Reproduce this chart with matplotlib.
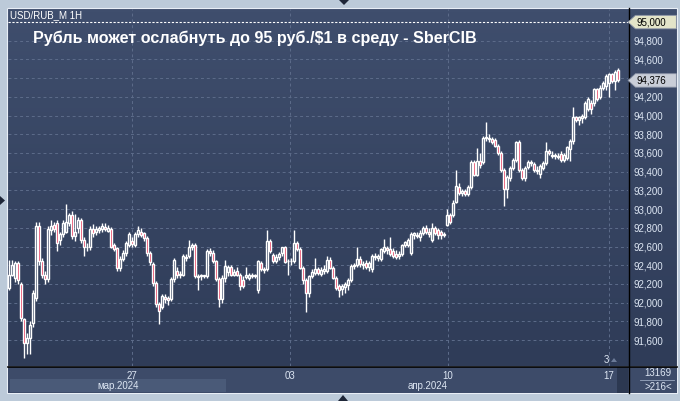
import numpy as np
import matplotlib
matplotlib.use("Agg")
import matplotlib.pyplot as plt
from matplotlib.patches import Rectangle, Polygon
from matplotlib.colors import LinearSegmentedColormap
from matplotlib.transforms import blended_transform_factory

plt.rcParams['font.family'] = ['Liberation Sans', 'DejaVu Sans']

# ── Data: USD/RUB_M, 1H candles (rub) ─────────────────────────────────────────
opens = [
    92.16, 92.30, 92.26, 92.42, 92.20, 91.82, 91.57, 91.62, 91.78, 92.05,
    92.82, 92.44, 92.30, 92.25, 92.78, 92.83, 92.85, 92.67, 92.73, 92.76,
    92.85, 92.94, 92.71, 92.80, 92.88, 92.67, 92.60, 92.59, 92.79, 92.75,
    92.78, 92.79, 92.81, 92.77, 92.79, 92.62, 92.58, 92.37, 92.47, 92.53,
    92.62, 92.66, 92.62, 92.73, 92.76, 92.74, 92.69, 92.53, 92.41, 92.21,
    91.99, 91.95, 92.06, 92.05, 92.04, 92.25, 92.34, 92.31, 92.30, 92.49,
    92.50, 92.60, 92.62, 92.28, 92.28, 92.28, 92.28, 92.55, 92.53, 92.44,
    92.25, 92.04, 92.26, 92.33, 92.38, 92.30, 92.34, 92.30, 92.24, 92.27,
    92.26, 92.29, 92.29, 92.13, 92.42, 92.36, 92.36, 92.66, 92.51, 92.44,
    92.49, 92.53, 92.59, 92.44, 92.45, 92.44, 92.64, 92.57, 92.37, 92.24,
    92.10, 92.28, 92.32, 92.36, 92.31, 92.34, 92.34, 92.46, 92.37, 92.26,
    92.18, 92.15, 92.17, 92.19, 92.24, 92.39, 92.40, 92.47, 92.41, 92.42,
    92.38, 92.36, 92.49, 92.48, 92.47, 92.55, 92.58, 92.57, 92.55, 92.52,
    92.50, 92.52, 92.62, 92.62, 92.53, 92.72, 92.72, 92.70, 92.74, 92.80,
    92.76, 92.67, 92.80, 92.78, 92.76, 92.72, 92.83, 92.94, 92.94, 93.08,
    93.24, 93.17, 93.19, 93.16, 93.24, 93.50, 93.37, 93.51, 93.50, 93.76,
    93.76, 93.75, 93.74, 93.68, 93.60, 93.42, 93.22, 93.33, 93.44, 93.53,
    93.72, 93.42, 93.33, 93.45, 93.50, 93.48, 93.42, 93.38, 93.44, 93.49,
    93.62, 93.58, 93.57, 93.56, 93.59, 93.53, 93.55, 93.64, 93.73, 93.98,
    93.95, 93.97, 93.98, 94.07, 94.14, 94.14, 94.28, 94.20, 94.30, 94.32,
    94.35, 94.44, 94.37, 94.49,
]
highs = [
    92.46, 92.46, 92.45, 92.44, 92.22, 91.84, 91.68, 91.80, 92.14, 92.86,
    92.86, 92.48, 92.34, 92.82, 92.88, 92.86, 92.88, 92.76, 92.88, 93.05,
    92.96, 92.98, 92.95, 92.92, 92.90, 92.70, 92.64, 92.82, 92.84, 92.82,
    92.82, 92.85, 92.85, 92.83, 92.81, 92.64, 92.60, 92.50, 92.56, 92.66,
    92.76, 92.70, 92.76, 92.82, 92.80, 92.76, 92.71, 92.55, 92.43, 92.23,
    92.01, 92.09, 92.09, 92.07, 92.27, 92.48, 92.38, 92.34, 92.52, 92.52,
    92.67, 92.64, 92.64, 92.31, 92.31, 92.30, 92.57, 92.58, 92.56, 92.46,
    92.27, 92.30, 92.46, 92.40, 92.40, 92.36, 92.38, 92.32, 92.28, 92.38,
    92.32, 92.32, 92.31, 92.46, 92.45, 92.38, 92.78, 92.68, 92.53, 92.52,
    92.54, 92.60, 92.61, 92.47, 92.48, 92.78, 92.66, 92.59, 92.39, 92.26,
    92.30, 92.36, 92.48, 92.38, 92.38, 92.40, 92.50, 92.49, 92.39, 92.28,
    92.20, 92.20, 92.22, 92.26, 92.41, 92.42, 92.59, 92.50, 92.44, 92.46,
    92.44, 92.52, 92.53, 92.52, 92.58, 92.68, 92.61, 92.70, 92.58, 92.56,
    92.55, 92.63, 92.66, 92.69, 92.75, 92.76, 92.76, 92.78, 92.82, 92.83,
    92.80, 92.85, 92.82, 92.80, 92.78, 92.75, 93.00, 92.96, 93.10, 93.42,
    93.28, 93.22, 93.22, 93.26, 93.52, 93.52, 93.65, 93.60, 93.78, 93.93,
    93.80, 93.77, 93.76, 93.70, 93.62, 93.44, 93.36, 93.46, 93.55, 93.73,
    93.74, 93.44, 93.46, 93.52, 93.53, 93.50, 93.46, 93.48, 93.51, 93.72,
    93.64, 93.62, 93.60, 93.60, 93.62, 93.60, 93.67, 93.75, 94.09, 94.00,
    94.00, 94.02, 94.16, 94.20, 94.17, 94.30, 94.30, 94.33, 94.37, 94.44,
    94.46, 94.46, 94.49, 94.51,
]
lows = [
    92.14, 92.28, 92.22, 92.20, 91.80, 91.41, 91.45, 91.45, 91.74, 92.02,
    92.40, 92.26, 92.20, 92.22, 92.72, 92.76, 92.55, 92.62, 92.70, 92.74,
    92.82, 92.68, 92.66, 92.74, 92.64, 92.50, 92.55, 92.56, 92.70, 92.72,
    92.74, 92.76, 92.77, 92.75, 92.58, 92.55, 92.34, 92.34, 92.44, 92.50,
    92.60, 92.60, 92.60, 92.70, 92.70, 92.66, 92.50, 92.40, 92.18, 91.95,
    91.77, 91.93, 92.00, 91.97, 92.02, 92.22, 92.26, 92.26, 92.28, 92.44,
    92.48, 92.56, 92.26, 92.14, 92.24, 92.26, 92.26, 92.50, 92.42, 92.23,
    91.95, 92.00, 92.22, 92.28, 92.28, 92.28, 92.28, 92.14, 92.16, 92.25,
    92.24, 92.26, 92.26, 92.10, 92.34, 92.32, 92.34, 92.53, 92.42, 92.42,
    92.46, 92.50, 92.42, 92.30, 92.40, 92.42, 92.55, 92.36, 92.20, 91.90,
    92.06, 92.26, 92.29, 92.30, 92.28, 92.31, 92.32, 92.36, 92.25, 92.14,
    92.06, 92.08, 92.10, 92.14, 92.22, 92.36, 92.38, 92.38, 92.36, 92.36,
    92.34, 92.33, 92.46, 92.45, 92.45, 92.53, 92.52, 92.50, 92.48, 92.47,
    92.47, 92.50, 92.59, 92.60, 92.51, 92.68, 92.69, 92.66, 92.72, 92.73,
    92.70, 92.65, 92.72, 92.68, 92.68, 92.70, 92.82, 92.84, 92.92, 93.06,
    93.15, 93.14, 93.14, 93.14, 93.22, 93.35, 93.35, 93.44, 93.48, 93.73,
    93.72, 93.70, 93.66, 93.58, 93.40, 93.03, 93.12, 93.30, 93.42, 93.50,
    93.40, 93.31, 93.30, 93.43, 93.46, 93.40, 93.38, 93.33, 93.42, 93.47,
    93.58, 93.55, 93.54, 93.54, 93.50, 93.50, 93.53, 93.51, 93.70, 93.93,
    93.90, 93.92, 93.96, 94.05, 94.02, 94.10, 94.16, 94.18, 94.27, 94.27,
    94.20, 94.35, 94.27, 94.36,
]
closes = [
    92.30, 92.40, 92.42, 92.24, 91.84, 91.57, 91.62, 91.76, 92.10, 92.82,
    92.44, 92.30, 92.25, 92.79, 92.82, 92.79, 92.64, 92.73, 92.85, 92.86,
    92.94, 92.71, 92.76, 92.88, 92.67, 92.60, 92.59, 92.79, 92.74, 92.79,
    92.80, 92.82, 92.79, 92.80, 92.60, 92.57, 92.37, 92.47, 92.53, 92.64,
    92.73, 92.63, 92.73, 92.78, 92.72, 92.69, 92.53, 92.43, 92.21, 91.98,
    91.91, 92.07, 92.04, 92.03, 92.25, 92.46, 92.30, 92.29, 92.50, 92.48,
    92.60, 92.62, 92.28, 92.27, 92.29, 92.29, 92.55, 92.53, 92.44, 92.25,
    92.04, 92.26, 92.39, 92.38, 92.30, 92.33, 92.30, 92.18, 92.18, 92.30,
    92.30, 92.28, 92.28, 92.44, 92.36, 92.35, 92.66, 92.55, 92.44, 92.49,
    92.52, 92.59, 92.43, 92.45, 92.44, 92.64, 92.57, 92.37, 92.24, 92.10,
    92.28, 92.33, 92.36, 92.32, 92.35, 92.36, 92.46, 92.37, 92.26, 92.16,
    92.14, 92.18, 92.20, 92.24, 92.39, 92.40, 92.47, 92.41, 92.40, 92.38,
    92.42, 92.50, 92.50, 92.50, 92.57, 92.60, 92.56, 92.52, 92.50, 92.49,
    92.52, 92.62, 92.65, 92.67, 92.73, 92.74, 92.71, 92.74, 92.80, 92.76,
    92.73, 92.80, 92.74, 92.72, 92.72, 92.73, 92.94, 92.86, 93.07, 93.25,
    93.17, 93.19, 93.16, 93.24, 93.50, 93.37, 93.51, 93.47, 93.76, 93.77,
    93.75, 93.72, 93.68, 93.60, 93.42, 93.22, 93.34, 93.44, 93.53, 93.72,
    93.42, 93.33, 93.44, 93.50, 93.49, 93.42, 93.41, 93.46, 93.49, 93.62,
    93.60, 93.57, 93.58, 93.57, 93.53, 93.58, 93.66, 93.73, 93.98, 93.95,
    93.98, 94.00, 94.14, 94.18, 94.07, 94.28, 94.18, 94.30, 94.35, 94.42,
    94.44, 94.37, 94.47, 94.376,
]

price_ticks = [91.6, 91.8, 92.0, 92.2, 92.4, 92.6, 92.8, 93.0, 93.2, 93.4,
               93.6, 93.8, 94.0, 94.2, 94.4, 94.6, 94.8]
date_labels = ["27", "03", "10", "17"]
date_pos = [41, 93.7, 146.3, 200]          # candle index of each date
month_labels = ["мар.2024", "апр.2024"]
level = 95.0
last = 94.376

title = "Рубль может ослабнуть до 95 руб./$1 в среду - SberCIB"

# ── Colours ────────────────────────────────────────────────────────────────────
FRAME = "#bccad9"
PANEL_TOP = "#3f4e6d"
PANEL_BOT = "#2f3c58"
GRID = "#5d6c8a"
RED = "#e0143c"
TXT = "#dde6f3"

W, H = 680, 401
fig = plt.figure(figsize=(W / 100, H / 100), dpi=100)
fig.patch.set_facecolor(FRAME)

# background in pixel coordinates
bg = fig.add_axes([0, 0, 1, 1])
bg.set_xlim(0, W)
bg.set_ylim(H, 0)
bg.axis("off")
cmap = LinearSegmentedColormap.from_list("panel", [PANEL_TOP, PANEL_BOT])
bg.imshow(np.linspace(0, 1, 100)[:, None], cmap=cmap, aspect="auto",
          extent=(7, 677, 366, 8), zorder=0)
bg.add_patch(Rectangle((7, 8), 670, 385, fc="none", ec="#e8eef6", lw=0.8, zorder=1))
# bottom date strip
bg.add_patch(Rectangle((8, 367), 669, 26, fc="#3d4b69", ec="none", zorder=1))
bg.add_patch(Rectangle((10, 379), 216, 13, fc="#4a5a78", ec="none", zorder=1))
bg.add_patch(Rectangle((617, 367), 11, 26, fc="#2c3851", ec="none", zorder=1))
bg.plot([8, 677], [366.5, 366.5], color="black", lw=1.2, zorder=2)
bg.plot([628.5, 628.5], [8, 393], color="black", lw=1.0, zorder=2)
bg.plot([640, 674], [380, 380], color="#9aa8c0", lw=0.6, zorder=2)

for lab, xp in zip(date_labels, [132, 290, 448, 609]):
    bg.text(xp, 376, lab, color=TXT, fontsize=7, ha="center", va="center")
bg.text(118, 386, month_labels[0], color=TXT, fontsize=7, ha="center", va="center")
bg.text(428, 386, month_labels[1], color=TXT, fontsize=7, ha="center", va="center")
bg.text(658, 373, "13169", color=TXT, fontsize=7, ha="center", va="center")
bg.text(658, 387, ">216<", color=TXT, fontsize=7, ha="center", va="center")
bg.text(606, 360, "3", color=TXT, fontsize=7, ha="center", va="center")
bg.add_patch(Polygon([[611, 362], [617, 362], [614, 358]], closed=True,
                     fc="#6c7b98", ec="none", zorder=2))
# small scroll markers on the frame
bg.add_patch(Polygon([[339, 0], [349, 0], [344, 5]], closed=True, fc="#1e2638", ec="none"))
bg.add_patch(Polygon([[338, 401], [348, 401], [343, 395]], closed=True, fc="#1e2638", ec="none"))
bg.add_patch(Polygon([[0, 196], [0, 205], [5, 200.5]], closed=True, fc="#1e2638", ec="none"))

bg.text(10, 15, "USD/RUB_M 1H", color="white", fontsize=7, ha="left", va="center")

# ── Main chart ─────────────────────────────────────────────────────────────────
ax = fig.add_axes([8 / W, 1 - 366 / H, 620 / W, 357 / H])
ax.patch.set_alpha(0)
ax.set_xlim(-1 / 3, 206.33)
ax.set_ylim(91.322, 95.14)
for s in ax.spines.values():
    s.set_visible(False)

for p in price_ticks:
    ax.axhline(p, color=GRID, lw=0.7, ls=(0, (3, 3)), zorder=1)
for xp in date_pos:
    ax.axvline(xp, color=GRID, lw=0.7, ls=(0, (3, 3)), zorder=1)
ax.axhline(level, color="white", lw=0.8, ls=(0, (2, 1.5)), zorder=2)

o = np.array(opens)
h = np.array(highs)
l = np.array(lows)
c = np.array(closes)
x = np.arange(len(c))
top = np.maximum(o, c)
bot = np.minimum(o, c)
up = c >= o

ax.vlines(x, top, h, color="white", lw=1.0, zorder=3)
ax.vlines(x, l, bot, color="white", lw=1.0, zorder=3)
ax.bar(x[up], (top - bot)[up], bottom=bot[up], width=0.7,
       facecolor="#34425f", edgecolor="white", linewidth=1.0, zorder=4)
ax.bar(x[~up], (top - bot)[~up], bottom=bot[~up], width=0.7,
       facecolor=RED, edgecolor="white", linewidth=1.0, zorder=4)

ax.set_xticks([])
ax.yaxis.tick_right()
shown = [p for p in price_ticks if abs(p - 94.4) > 1e-6]
ax.set_yticks(shown)
ax.set_yticklabels([f"{p:.3f}".replace(".", ",") for p in shown])
ax.tick_params(axis="y", length=0, pad=4, labelsize=7, labelcolor=TXT)

ax.text(0.04, 0.918, title, transform=ax.transAxes, color="white",
        fontsize=11.6, fontweight="bold", ha="left", va="center")

# price boxes on the right scale
tr = blended_transform_factory(ax.transAxes, ax.transData)
for val, fc in [(level, "#e3e4c9"), (last, "#c9ced8")]:
    hh = 0.072
    poly = Polygon([[1.0, val], [1.012, val + hh], [1.078, val + hh],
                    [1.078, val - hh], [1.012, val - hh]], closed=True,
                   transform=tr, clip_on=False, fc=fc, ec="#8a93a6", lw=0.6, zorder=5)
    ax.add_patch(poly)
    ax.text(1.013, val, f"{val:.3f}".replace(".", ","), transform=tr,
            color="black", fontsize=7, ha="left", va="center", zorder=6)

fig.savefig("out.png", dpi=100, facecolor=FRAME)
